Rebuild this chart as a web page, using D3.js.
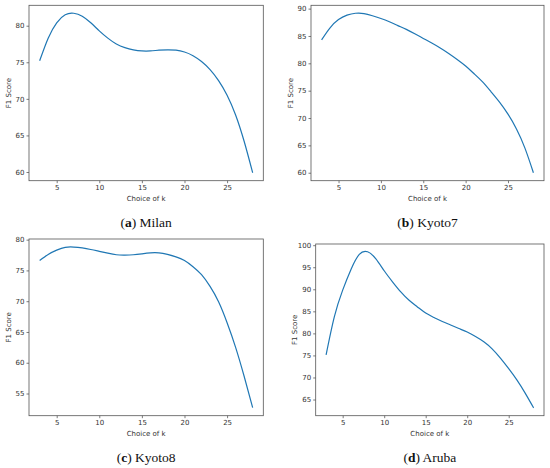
<!DOCTYPE html>
<meta charset="utf-8">
<style>
body { margin: 0; background: #fff; }
.tick text { font-family: "DejaVu Sans", sans-serif; font-size: 7px; fill: #333; }
.axlabel { font-family: "DejaVu Sans", sans-serif; font-size: 7px; fill: #333; }
.caption { font-family: "Liberation Serif", serif; font-size: 13.5px; fill: #111; }
</style>
<script src="https://d3js.org/d3.v7.min.js"></script>
<div id="chart"></div>
<script>

// data
var kValues = [3,4,5,6,7,8,9,10,11,12,13,14,15,16,17,18,19,20,21,22,23,24,25,26,27,28];
var milanF1 = [75.2,78.3,80.4,81.5,81.7,81.3,80.4,79.3,78.3,77.5,77.0,76.7,76.55,76.55,76.65,76.7,76.65,76.4,75.9,75.1,74.0,72.5,70.5,67.8,64.2,59.9];
var kyoto7F1 = [84.3,86.5,88.0,88.8,89.15,89.1,88.7,88.2,87.6,86.9,86.2,85.4,84.55,83.7,82.8,81.8,80.7,79.5,78.1,76.6,74.8,72.9,70.7,68.0,64.5,60.0];
var kyoto8F1 = [76.6,77.6,78.3,78.75,78.8,78.65,78.4,78.1,77.8,77.55,77.5,77.55,77.7,77.85,77.85,77.6,77.2,76.6,75.6,74.3,72.4,69.9,66.5,62.5,57.8,52.7];
var arubaF1 = [75.1,83.8,89.8,94.5,97.9,98.5,96.9,94.2,91.7,89.4,87.5,86.0,84.6,83.6,82.7,81.9,81.1,80.3,79.3,78.1,76.5,74.4,72.0,69.4,66.4,63.1];

var captionLetters = ["a", "b", "c", "d"];
var captionNames = ["Milan", "Kyoto7", "Kyoto8", "Aruba"];
var xTicks = [5, 10, 15, 20, 25];
var yTicksList = [
  [60, 65, 70, 75, 80],
  [60, 65, 70, 75, 80, 85, 90],
  [55, 60, 65, 70, 75, 80],
  [65, 70, 75, 80, 85, 90, 95, 100]
];

var W = 550, H = 468;
var svg = d3.select("#chart").append("svg")
  .attr("width", W).attr("height", H);

// plot boxes: left, top, right, bottom
var boxes = [
  [29, 5.3, 263.3, 180.7],
  [311, 5.3, 544, 180.7],
  [29, 239, 263.3, 415.7],
  [315.7, 244, 544, 415.7]
];
var series = [milanF1, kyoto7F1, kyoto8F1, arubaF1];

series.forEach(function(vals, i) {
  var b = boxes[i];
  var g = svg.append("g");

  // matplotlib style 5% margins
  var xr = d3.extent(kValues), yr = d3.extent(vals);
  var xp = (xr[1] - xr[0]) * 0.05, yp = (yr[1] - yr[0]) * 0.05;
  var x = d3.scaleLinear().domain([xr[0] - xp, xr[1] + xp]).range([b[0], b[2]]);
  var y = d3.scaleLinear().domain([yr[0] - yp, yr[1] + yp]).range([b[3], b[1]]);

  g.append("g")
    .attr("transform", "translate(0," + b[3] + ")")
    .call(d3.axisBottom(x).tickValues(xTicks).tickSize(2.5).tickPadding(2));
  g.append("g")
    .attr("transform", "translate(" + b[0] + ",0)")
    .call(d3.axisLeft(y).tickValues(yTicksList[i]).tickSize(2.5).tickPadding(2));
  g.selectAll(".domain").remove();
  g.selectAll(".tick line").attr("stroke", "#444").attr("stroke-width", 0.7);

  // frame
  g.append("rect")
    .attr("x", b[0]).attr("y", b[1])
    .attr("width", b[2] - b[0]).attr("height", b[3] - b[1])
    .attr("fill", "none").attr("stroke", "#555").attr("stroke-width", 0.8);

  var line = d3.line()
    .x(function(d, j) { return x(kValues[j]); })
    .y(function(d) { return y(d); })
    .curve(d3.curveNatural);
  g.append("path")
    .datum(vals)
    .attr("d", line)
    .attr("fill", "none")
    .attr("stroke", "#1f77b4")
    .attr("stroke-width", 1.2);

  var cx = (b[0] + b[2]) / 2;
  g.append("text").attr("class", "axlabel")
    .attr("x", cx).attr("y", b[3] + 20)
    .attr("text-anchor", "middle")
    .text("Choice of k");
  g.append("text").attr("class", "axlabel")
    .attr("transform", "translate(" + (b[0] - 18.5) + "," + ((b[1] + b[3]) / 2) + ") rotate(-90)")
    .attr("text-anchor", "middle")
    .text("F1 Score");

  var cap = g.append("text").attr("class", "caption")
    .attr("x", cx).attr("y", b[3] + 46)
    .attr("text-anchor", "middle");
  cap.append("tspan").text("(");
  cap.append("tspan").attr("font-weight", "bold").text(captionLetters[i]);
  cap.append("tspan").text(") " + captionNames[i]);
});

</script>
